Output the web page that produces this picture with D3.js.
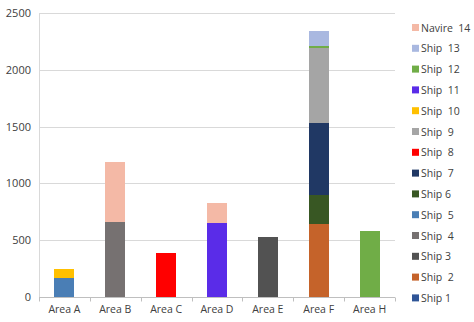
<!DOCTYPE html>
<html>
<head>
<meta charset="utf-8">
<script src="https://cdn.jsdelivr.net/npm/d3@7"></script>
<style>
	body { margin: 0; background: #fff; }
	text { font-family: "Open Sans", "Liberation Sans", sans-serif; fill: #404040; }
</style>
</head>
<body>
<div id="chart"></div>
<script>

var areas = ["Area A", "Area B", "Area C", "Area D", "Area E", "Area F", "Area H"];
var ships = ["Ship 1", "Ship 2", "Ship 3", "Ship 4", "Ship 5", "Ship 6", "Ship 7",
	"Ship 8", "Ship 9", "Ship 10", "Ship 11", "Ship 12", "Ship 13", "Navire 14"];
var legendLabels = ["Ship 1", "Ship  2", "Ship 3", "Ship  4", "Ship  5", "Ship 6", "Ship  7",
	"Ship  8", "Ship  9", "Ship  10", "Ship  11", "Ship  12", "Ship  13", "Navire  14"];
var shipColors = ["#2f5597", "#c5632a", "#525252", "#767171", "#4a7eb5", "#385723", "#203864",
	"#ff0000", "#a5a5a5", "#ffc000", "#5a2ce8", "#70ad47", "#a9b8e0", "#f4b9a6"];
var yTicks = [0, 500, 1000, 1500, 2000, 2500];

// values per ship, one entry per area (A, B, C, D, E, F, H)
var ship1  = [0, 0, 0, 0, 0, 0, 0];
var ship2  = [0, 0, 0, 0, 0, 645, 0];
var ship3  = [0, 0, 0, 0, 525, 0, 0];
var ship4  = [0, 657, 0, 0, 0, 0, 0];
var ship5  = [165, 0, 0, 0, 0, 0, 0];
var ship6  = [0, 0, 0, 0, 0, 255, 0];
var ship7  = [0, 0, 0, 0, 0, 634, 0];
var ship8  = [0, 0, 387, 0, 0, 0, 0];
var ship9  = [0, 0, 0, 0, 0, 658, 0];
var ship10 = [80, 0, 0, 0, 0, 0, 0];
var ship11 = [0, 0, 0, 654, 0, 0, 0];
var ship12 = [0, 0, 0, 0, 0, 17, 584];
var ship13 = [0, 0, 0, 0, 0, 135, 0];
var navire14 = [0, 530, 0, 171, 0, 0, 0];

var series = [ship1, ship2, ship3, ship4, ship5, ship6, ship7,
	ship8, ship9, ship10, ship11, ship12, ship13, navire14];

var rows = areas.map(function(a, i){
	var r = { area: a };
	ships.forEach(function(s, j){ r[s] = series[j][i]; });
	return r;
});

var w = 474;
var h = 322;
var plotLeft = 39, plotRight = 395, plotTop = 13, plotBottom = 297;

var svg = d3.select("#chart")
	.append("svg")
	.attr("width", w)
	.attr("height", h);

var x = d3.scaleBand()
	.domain(areas)
	.range([plotLeft, plotRight])
	.paddingInner(0.607)
	.paddingOuter(0.3035);

var xAxisScale = d3.scaleBand().domain(areas).range([plotLeft, plotRight]);

var y = d3.scaleLinear()
	.domain([0, 2500])
	.range([plotBottom, plotTop]);

// gridlines
svg.selectAll(".grid")
	.data(yTicks.slice(1))
	.enter()
	.append("line")
	.attr("x1", plotLeft)
	.attr("x2", plotRight)
	.attr("y1", function(d){ return Math.round(y(d)) + 0.5; })
	.attr("y2", function(d){ return Math.round(y(d)) + 0.5; })
	.attr("stroke", "#d9d9d9")
	.attr("stroke-width", 1);

// y labels
svg.selectAll(".ylab")
	.data(yTicks)
	.enter()
	.append("text")
	.attr("x", 31)
	.attr("y", function(d){ return y(d) + 4; })
	.attr("text-anchor", "end")
	.style("font-size", "11px")
	.text(function(d){ return d; });

// bars
var stacked = d3.stack().keys(ships)(rows);

svg.selectAll(".layer")
	.data(stacked)
	.enter()
	.append("g")
	.attr("fill", function(d, i){ return shipColors[i]; })
	.attr("shape-rendering", "crispEdges")
	.selectAll("rect")
	.data(function(d){ return d.filter(function(p){ return p[1] - p[0] > 0; }); })
	.enter()
	.append("rect")
	.attr("x", function(d){ return Math.round(x(d.data.area)); })
	.attr("y", function(d){ return Math.round(y(d[1])); })
	.attr("width", Math.round(x.bandwidth()))
	.attr("height", function(d){ return Math.round(y(d[0])) - Math.round(y(d[1])); });

// axis lines
svg.append("line")
	.attr("x1", plotLeft + 0.5).attr("x2", plotLeft + 0.5)
	.attr("y1", plotTop).attr("y2", plotBottom)
	.attr("stroke", "#d9d9d9");

var xAxis = svg.append("g")
	.attr("transform", "translate(0," + (plotBottom + 0.5) + ")");
xAxis.append("line")
	.attr("x1", plotLeft).attr("x2", plotRight)
	.attr("stroke", "#bfbfbf");
xAxis.selectAll(".tick")
	.data(d3.range(areas.length + 1))
	.enter()
	.append("line")
	.attr("x1", function(d){ return Math.round(plotLeft + d * xAxisScale.step()) + 0.5; })
	.attr("x2", function(d){ return Math.round(plotLeft + d * xAxisScale.step()) + 0.5; })
	.attr("y1", 0).attr("y2", 4)
	.attr("stroke", "#bfbfbf");
xAxis.selectAll("text")
	.data(areas)
	.enter()
	.append("text")
	.attr("x", function(d){ return xAxisScale(d) + xAxisScale.bandwidth() / 2; })
	.attr("y", 15)
	.attr("text-anchor", "middle")
	.style("font-size", "10.5px")
	.text(function(d){ return d; });

// legend, top entry is the last series
var legend = svg.selectAll(".legend")
	.data(ships.map(function(s, i){ return i; }).reverse())
	.enter()
	.append("g")
	.attr("transform", function(d, i){ return "translate(412," + (27.5 + i * 20.8) + ")"; });

legend.append("rect")
	.attr("x", 0).attr("y", -3.5)
	.attr("width", 7).attr("height", 7)
	.attr("fill", function(d){ return shipColors[d]; });

legend.append("text")
	.attr("x", 9)
	.attr("y", 4)
	.style("font-size", "10.5px")
	.style("white-space", "pre")
	.text(function(d){ return legendLabels[d]; });

</script>
</body>
</html>
